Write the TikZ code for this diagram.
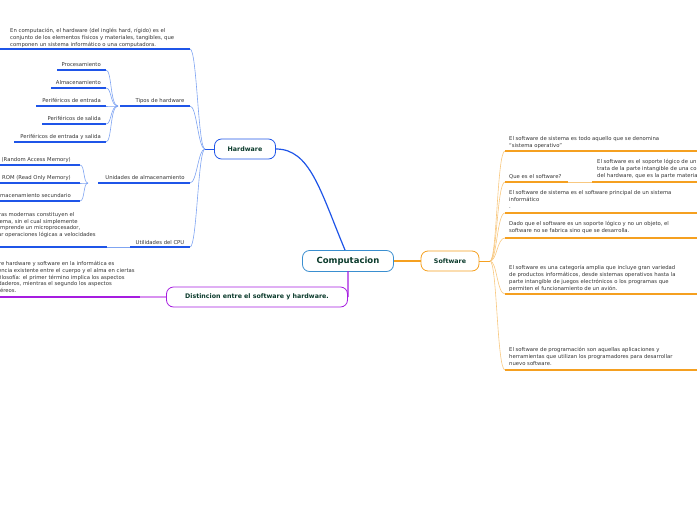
\documentclass[tikz,border=0pt]{standalone}
\usepackage{fontspec}
\setmainfont{DejaVu Sans}
\begin{document}
\begin{tikzpicture}[x=1pt,y=-1pt,
  txt/.style={font=\fontsize{5.3}{6.8}\selectfont,text=black!80,inner sep=0pt,align=left},
  hb/.style={draw=hblue,line width=1.2pt},
  hl/.style={draw=hlight,line width=0.6pt},
  ob/.style={draw=sorange,line width=1.2pt},
  ol/.style={draw=solight,line width=0.6pt},
  topic/.style={draw,rounded corners=7pt,line width=0.8pt,fill=white,font=\bfseries\fontsize{6.3}{7}\selectfont,text=tgreen,minimum height=20pt}]
\definecolor{hblue}{HTML}{1F55E8}
\definecolor{hlight}{HTML}{7FA4F2}
\definecolor{sorange}{HTML}{F5A020}
\definecolor{solight}{HTML}{F8C880}
\definecolor{ppl}{HTML}{A61DE0}
\definecolor{plight}{HTML}{D890F0}
\definecolor{tgreen}{HTML}{0B3B2C}
\definecolor{cblue}{HTML}{3A8FD0}
\useasboundingbox (0,0) rectangle (697,520);
% central
\node[topic,draw=cblue,minimum width=91pt,minimum height=21pt,font=\bfseries\fontsize{8.5}{9}\selectfont] (c) at (348,261) {Computacion};
\node[topic,draw=hblue,minimum width=61pt] (hw) at (245,149) {Hardware};
\node[topic,draw=sorange,minimum width=58pt] (sw) at (450,261) {Software};
\node[topic,draw=ppl,minimum width=181pt] (ds) at (257,297) {Distincion entre el software y hardware.};
\draw[hblue,line width=1.2pt] (345,250) .. controls (320,190) and (310,149) .. (hw.east);
\draw[sorange,line width=1.2pt] (c.east) -- (sw.west);
\draw[ppl,line width=1.2pt] (348,271) .. controls (348,290) and (348,297) .. (ds.east);
% Hardware branch
\coordinate (hj) at (215,149);
\coordinate (hj2) at (205,149);
\draw[hblue,line width=1pt] (hj) -- (hj2);
\foreach \y/\n in {49/h1,106/h2,183/h3,247/h4}{
  \coordinate (\n) at (190,\y);
  \draw[hl] (hj2) .. controls (198,149) and (197,\y) .. (\n);
}
\draw[hb] (0,49) -- (h1);
\node[txt,anchor=north west] (t1) at (10,28) {En computación, el hardware (del inglés hard, rígido) es el\\conjunto de los elementos físicos y materiales, tangibles, que\\componen un sistema informático o una computadora.};
\draw[hb] (120,106) -- (h2);
\node[txt,anchor=base] (t2) at (160,102) {Tipos de hardware};
\coordinate (tj) at (118,106);
\foreach \y/\a/\s in {70/57/Procesamiento,88/51/Almacenamiento,106/36/Periféricos de entrada,124/42/Periféricos de salida,142/14/Periféricos de entrada y salida}{
  \draw[hb] (\a,\y) -- (106,\y);
  \draw[hl] (tj) .. controls (110,106) and (112,\y) .. (106,\y);
  \node[txt,anchor=base east] at (101,\y-3.5) {\s};
}
\draw[hb] (98,183) -- (h3);
\node[txt,anchor=base] (t3) at (145,179) {Unidades de almacenamiento};
\coordinate (uj) at (88,183);
\foreach \y/\s in {165/RAM (Random Access Memory),183/ROM (Read Only Memory),201/Almacenamiento secundario}{
  \draw[hb] (0,\y) -- (80,\y);
  \draw[hl] (uj) .. controls (83,183) and (85,\y) .. (80,\y);
  \node[txt,anchor=base east] at (71,\y-3.5) {\s};
}
\draw[hb] (0,247) -- (107,247);
\draw[hl] (107,247) -- (130,247);
\draw[hb] (130,247) -- (h4);
\node[txt,anchor=base] (t4) at (160,244) {Utilidades del CPU};
\node[txt,anchor=north west] (t5) at (-42,212) {Las computadoras modernas constituyen el\\corazón del sistema, sin el cual simplemente\\no funciona. Comprende un microprocesador,\\capaz de realizar operaciones lógicas a velocidades};
% Distincion
\draw[ppl,line width=1.2pt] (0,297) -- (140,297);
\draw[plight,line width=1.2pt] (140,297) -- (ds.west);
\node[txt,anchor=north west] (t6) at (-45,261) {La distinción entre hardware y software en la informática es\\similar a la diferencia existente entre el cuerpo y el alma en ciertas\\corrientes de la filosofía: el primer término implica los aspectos\\materiales y verdaderos, mientras el segundo los aspectos\\inmateriales y etéreos.};
% Software branch
\coordinate (sj) at (490,261);
\draw[sorange,line width=1pt] (sw.east) -- (sj);
\foreach \y/\n in {151/s1,182/s2,213/s3,238/s4,294/s5,370/s6}{
  \coordinate (\n) at (505,\y);
  \draw[ol] (sj) .. controls (497,261) and (497,\y) .. (\n);
}
\draw[ob] (s1) -- (697,151);
\node[txt,anchor=north west] at (509,136) {El software de sistema es todo aquello que se denomina\\``sistema operativo''};
\draw[ob] (s2) -- (568,182);
\node[txt,anchor=base west] (q) at (509,178) {Que es el software?};
\draw[ol] (568,182) -- (592,182);
\draw[ob] (592,182) -- (697,182);
\node[txt,anchor=north west] at (597,159) {El software es el soporte lógico de un sistema informático, se\\trata de la parte intangible de una computadora, a diferencia\\del hardware, que es la parte material};
\draw[ob] (s3) -- (697,213);
\node[txt,anchor=north west] at (509,190.5) {El software de sistema es el software principal de un sistema\\informático\\.};
\draw[ob] (s4) -- (697,238);
\node[txt,anchor=north west] at (509,221.5) {Dado que el software es un soporte lógico y no un objeto, el\\software no se fabrica sino que se desarrolla.};
\draw[ob] (s5) -- (697,294);
\node[txt,anchor=north west] at (509,265.5) {El software es una categoría amplia que incluye gran variedad\\de productos informáticos, desde sistemas operativos hasta la\\parte intangible de juegos electrónicos o los programas que\\permiten el funcionamiento de un avión.};
\draw[ob] (s6) -- (697,370);
\node[txt,anchor=north west] at (509,347.5) {El software de programación son aquellas aplicaciones y\\herramientas que utilizan los programadores para desarrollar\\nuevo software.};
\end{tikzpicture}
\end{document}
